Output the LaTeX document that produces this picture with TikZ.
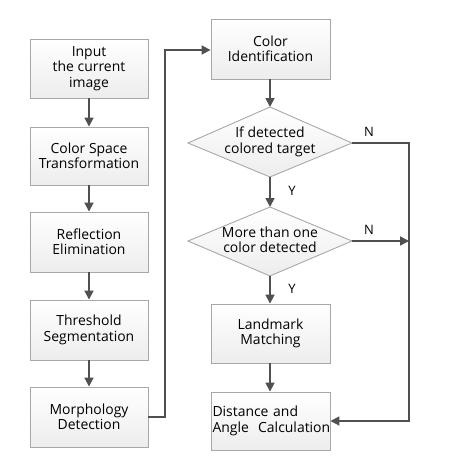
\documentclass[tikz,border=0pt]{standalone}
\usepackage{fontspec}
\setmainfont{Open Sans}
\usetikzlibrary{arrows.meta,shapes.geometric,shadows}
\definecolor{bordc}{HTML}{A8A8A8}
\definecolor{linec}{HTML}{505050}
\definecolor{fillc}{HTML}{EDEDED}
\tikzset{
  txt/.style={font=\fontsize{14}{15.5}\selectfont},
  box/.style={draw=bordc, line width=0.9pt, top color=white, bottom color=fillc,
    drop shadow={shadow xshift=1.2pt, shadow yshift=-1.2pt, fill=black!18},
    align=center, txt, inner sep=0pt},
  dia/.style={draw=bordc, line width=0.9pt, top color=white, bottom color=fillc},
  diatext/.style={align=center, txt, inner sep=0pt},
  conn/.style={draw=linec, line width=1.8pt, -{Triangle[length=9pt,width=9pt]}},
  lab/.style={font=\fontsize{13}{14}\selectfont}
}
\begin{document}
\begin{tikzpicture}[x=1bp,y=-1bp]
\useasboundingbox (0,0) rectangle (474,474);
% left column
\node[box, minimum width=118bp, minimum height=59bp] (b1) at (89,68.5) {Input\\the current\\image};
\node[box, minimum width=118bp, minimum height=58bp] (b2) at (89,156) {Color Space\\Transformation};
\node[box, minimum width=118bp, minimum height=60bp] (b3) at (89,242) {Reflection\\Elimination};
\node[box, minimum width=118bp, minimum height=60bp] (b4) at (89,330) {Threshold\\Segmentation};
\node[box, minimum width=118bp, minimum height=60bp] (b5) at (89,417) {Morphology\\Detection};
% right column
\node[box, minimum width=119bp, minimum height=60bp] (c1) at (270.5,49) {Color\\Identification};
\draw[dia] (188,143) -- (270,107) -- (352,143) -- (270,177) -- cycle;
\coordinate (d1t) at (270,107);
\coordinate (d1r) at (352,143);
\coordinate (d1b) at (270,177);
\node[diatext] (d1) at (270,142) {If detected\\colored target};
\draw[dia] (188,241) -- (270,207) -- (352,241) -- (270,276) -- cycle;
\coordinate (d2t) at (270,207);
\coordinate (d2r) at (352,241);
\coordinate (d2b) at (270,276);
\node[diatext] (d2) at (270,240) {More than one\\color detected};
\node[box, minimum width=119bp, minimum height=59bp] (c4) at (270.5,333.5) {Landmark\\Matching};
\node[box, minimum width=119bp, minimum height=58bp, align=left, text width=116bp] (c5) at (270.5,421) {\mbox{Distance and}\\\mbox{Angle\ \ Calculation}};
% connectors
\draw[conn] (b1.south) -- (b2.north);
\draw[conn] (b2.south) -- (b3.north);
\draw[conn] (b3.south) -- (b4.north);
\draw[conn] (b4.south) -- (b5.north);
\coordinate (j1) at (165,417);
\coordinate (j2) at (165,50);
\draw[conn] (b5.east) -- (j1) -- (j2) -- (c1.west |- j2);
\draw[conn] (c1.south -| d1t) -- (d1t);
\draw[conn] (d1b) -- (d2t);
\draw[conn] (d2b) -- (c4.north -| d2b);
\draw[conn] (c4.south -| d2b) -- (c5.north -| d2b);
\coordinate (r1) at (409,143);
\coordinate (r2) at (409,421);
\coordinate (r3) at (409,241);
\draw[conn] (d1r) -- (r1) -- (r2) -- (c5.east |- r2);
\draw[conn] (d2r) -- (r3);
% labels
\node[lab] (n1) at (369,132) {N};
\node[lab] (y1) at (292,191) {Y};
\node[lab] (n2) at (369,230) {N};
\node[lab] (y2) at (292,289) {Y};
\end{tikzpicture}
\end{document}
